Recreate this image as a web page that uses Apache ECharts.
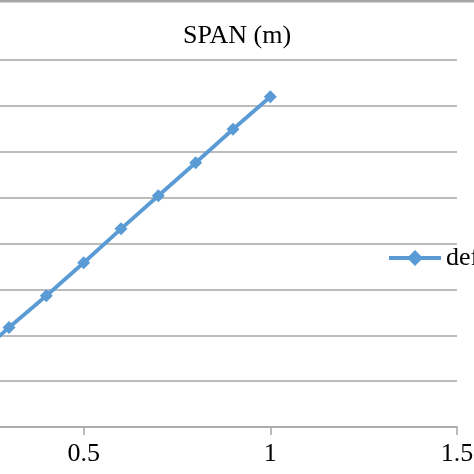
<!DOCTYPE html>
<html>
<head>
<meta charset="utf-8">
<script src="https://cdn.jsdelivr.net/npm/echarts@6/dist/echarts.min.js"></script>
<style>
  html, body { margin: 0; padding: 0; background: #fff; }
  #chart { width: 474px; height: 474px; }
</style>
</head>
<body>
<div id="chart"></div>
<script type="text/javascript">
// span values (m) and deflection (y in gridline units, axis labels cropped)
var span = [0.1, 0.2, 0.3, 0.4, 0.5, 0.6, 0.7, 0.8, 0.9, 1.0];
var deflection = [0.72, 1.44, 2.17, 2.86, 3.58, 4.32, 5.04, 5.76, 6.49, 7.20];
var xTicks = [0, 0.5, 1, 1.5];

var chart = echarts.init(document.getElementById('chart'));

var points = [];
for (var i = 0; i < span.length; i++) {
    points.push([span[i], deflection[i]]);
}

var font = "'Liberation Serif', 'Times New Roman', serif";

var option = {
    backgroundColor: '#ffffff',
    animation: false,
    title: {
        text: 'SPAN (m)',
        left: 'center',
        top: 18,
        textStyle: { fontFamily: font, fontSize: 26, fontWeight: 'normal', color: '#000' }
    },
    legend: {
        left: 387,
        top: 245,
        padding: 0,
        itemWidth: 52,
        itemHeight: 20,
        textStyle: { fontFamily: font, fontSize: 26, color: '#000' },
        lineStyle: { width: 4 },
        data: ['deflection']
    },
    graphic: [{
        type: 'line',
        shape: { x1: 0, y1: 1, x2: 474, y2: 1 },
        style: { stroke: '#a6a6a6', lineWidth: 3 }
    }],
    // the plot starts off the left edge of the picture
    grid: { left: -103, right: 17, top: 60, bottom: 47, outerBoundsMode: 'none', containLabel: false },
    xAxis: {
        type: 'value',
        min: xTicks[0],
        max: xTicks[xTicks.length - 1],
        interval: 0.5,
        axisLine: { lineStyle: { color: '#a6a6a6', width: 1.5 } },
        axisTick: { show: true, length: 8, lineStyle: { color: '#a6a6a6', width: 1.5 } },
        splitLine: { show: false },
        axisLabel: { fontFamily: font, fontSize: 26, color: '#000', margin: 14 }
    },
    yAxis: {
        type: 'value',
        min: 0,
        max: 8,
        interval: 1,
        axisLine: { show: false },
        axisTick: { show: false },
        axisLabel: { show: false },
        splitLine: { lineStyle: { color: '#a6a6a6', width: 1.5 } }
    },
    series: [{
        name: 'deflection',
        type: 'line',
        data: points,
        symbol: 'diamond',
        symbolSize: 13,
        lineStyle: { color: '#5b9bd5', width: 3.8 },
        itemStyle: { color: '#5b9bd5' }
    }]
};

chart.setOption(option);
</script>
</body>
</html>
